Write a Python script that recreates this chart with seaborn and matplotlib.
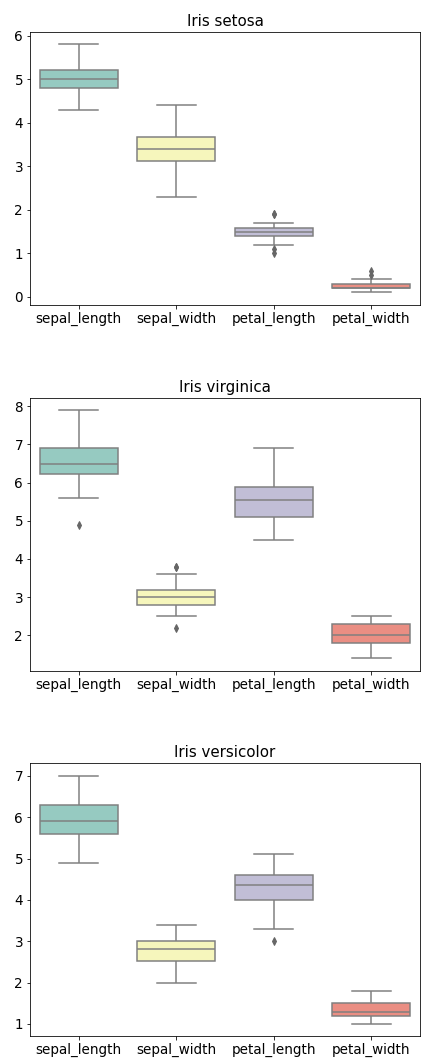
import matplotlib
matplotlib.use("Agg")
import matplotlib.pyplot as plt
import pandas as pd
import seaborn as sns

# values (whisker ends, quartiles, median, outliers)
measures = ["sepal_length", "sepal_width", "petal_length", "petal_width"]

setosa_sepal_length = [4.3, 4.8, 4.8, 4.8, 5.0, 5.0, 5.0, 5.2, 5.2, 5.2, 5.2, 5.2, 5.8]
setosa_sepal_width = [2.3, 3.12, 3.12, 3.12, 3.4, 3.4, 3.4, 3.68, 3.68, 3.68, 3.68, 3.68, 4.4]
setosa_petal_length = [1.0, 1.1, 1.2, 1.4, 1.5, 1.5, 1.5, 1.5, 1.575, 1.575, 1.7, 1.9, 1.9]
setosa_petal_width = [0.1, 0.2, 0.2, 0.2, 0.2, 0.2, 0.2, 0.3, 0.3, 0.3, 0.4, 0.5, 0.6]

virginica_sepal_length = [4.9, 5.6, 6.225, 6.225, 6.5, 6.5, 6.5, 6.9, 6.9, 6.9, 6.9, 6.9, 7.9]
virginica_sepal_width = [2.2, 2.5, 2.8, 2.8, 3.0, 3.0, 3.0, 3.175, 3.175, 3.175, 3.6, 3.8, 3.8]
virginica_petal_length = [4.5, 5.1, 5.1, 5.1, 5.55, 5.55, 5.55, 5.875, 5.875, 5.875, 5.875, 5.875, 6.9]
virginica_petal_width = [1.4, 1.8, 1.8, 1.8, 2.0, 2.0, 2.0, 2.3, 2.3, 2.3, 2.3, 2.3, 2.5]

versicolor_sepal_length = [4.9, 5.6, 5.6, 5.6, 5.9, 5.9, 5.9, 6.3, 6.3, 6.3, 6.3, 6.3, 7.0]
versicolor_sepal_width = [2.0, 2.525, 2.525, 2.525, 2.8, 2.8, 2.8, 3.0, 3.0, 3.0, 3.0, 3.0, 3.4]
versicolor_petal_length = [3.0, 3.3, 4.0, 4.0, 4.35, 4.35, 4.35, 4.6, 4.6, 4.6, 4.6, 4.6, 5.1]
versicolor_petal_width = [1.0, 1.2, 1.2, 1.2, 1.3, 1.3, 1.3, 1.5, 1.5, 1.5, 1.5, 1.5, 1.8]

titles = ["Iris setosa", "Iris virginica", "Iris versicolor"]

setosa = pd.DataFrame(dict(zip(measures, [setosa_sepal_length, setosa_sepal_width,
                                          setosa_petal_length, setosa_petal_width])))
virginica = pd.DataFrame(dict(zip(measures, [virginica_sepal_length, virginica_sepal_width,
                                             virginica_petal_length, virginica_petal_width])))
versicolor = pd.DataFrame(dict(zip(measures, [versicolor_sepal_length, versicolor_sepal_width,
                                              versicolor_petal_length, versicolor_petal_width])))

fig, axes = plt.subplots(3, 1, figsize=(436 / 72, 1064 / 72), dpi=72)
fig.subplots_adjust(left=0.069, right=0.963, top=0.970, bottom=0.026, hspace=0.34)

gray = "#7f7f7f"
for ax, df, title in zip(axes, [setosa, virginica, versicolor], titles):
    long = df.melt(var_name="measure", value_name="cm")
    sns.boxplot(data=long, x="measure", y="cm", hue="measure", palette="Set3",
                legend=False, ax=ax, width=0.8, linewidth=1.5, linecolor=gray,
                flierprops=dict(marker="d", markerfacecolor="#666666",
                                markeredgecolor="#666666", markersize=5))
    ax.set_title(title, fontsize=15)
    ax.set_xlabel("")
    ax.set_ylabel("")
    ax.tick_params(labelsize=13.5)

fig.savefig("out.png", dpi=72)
